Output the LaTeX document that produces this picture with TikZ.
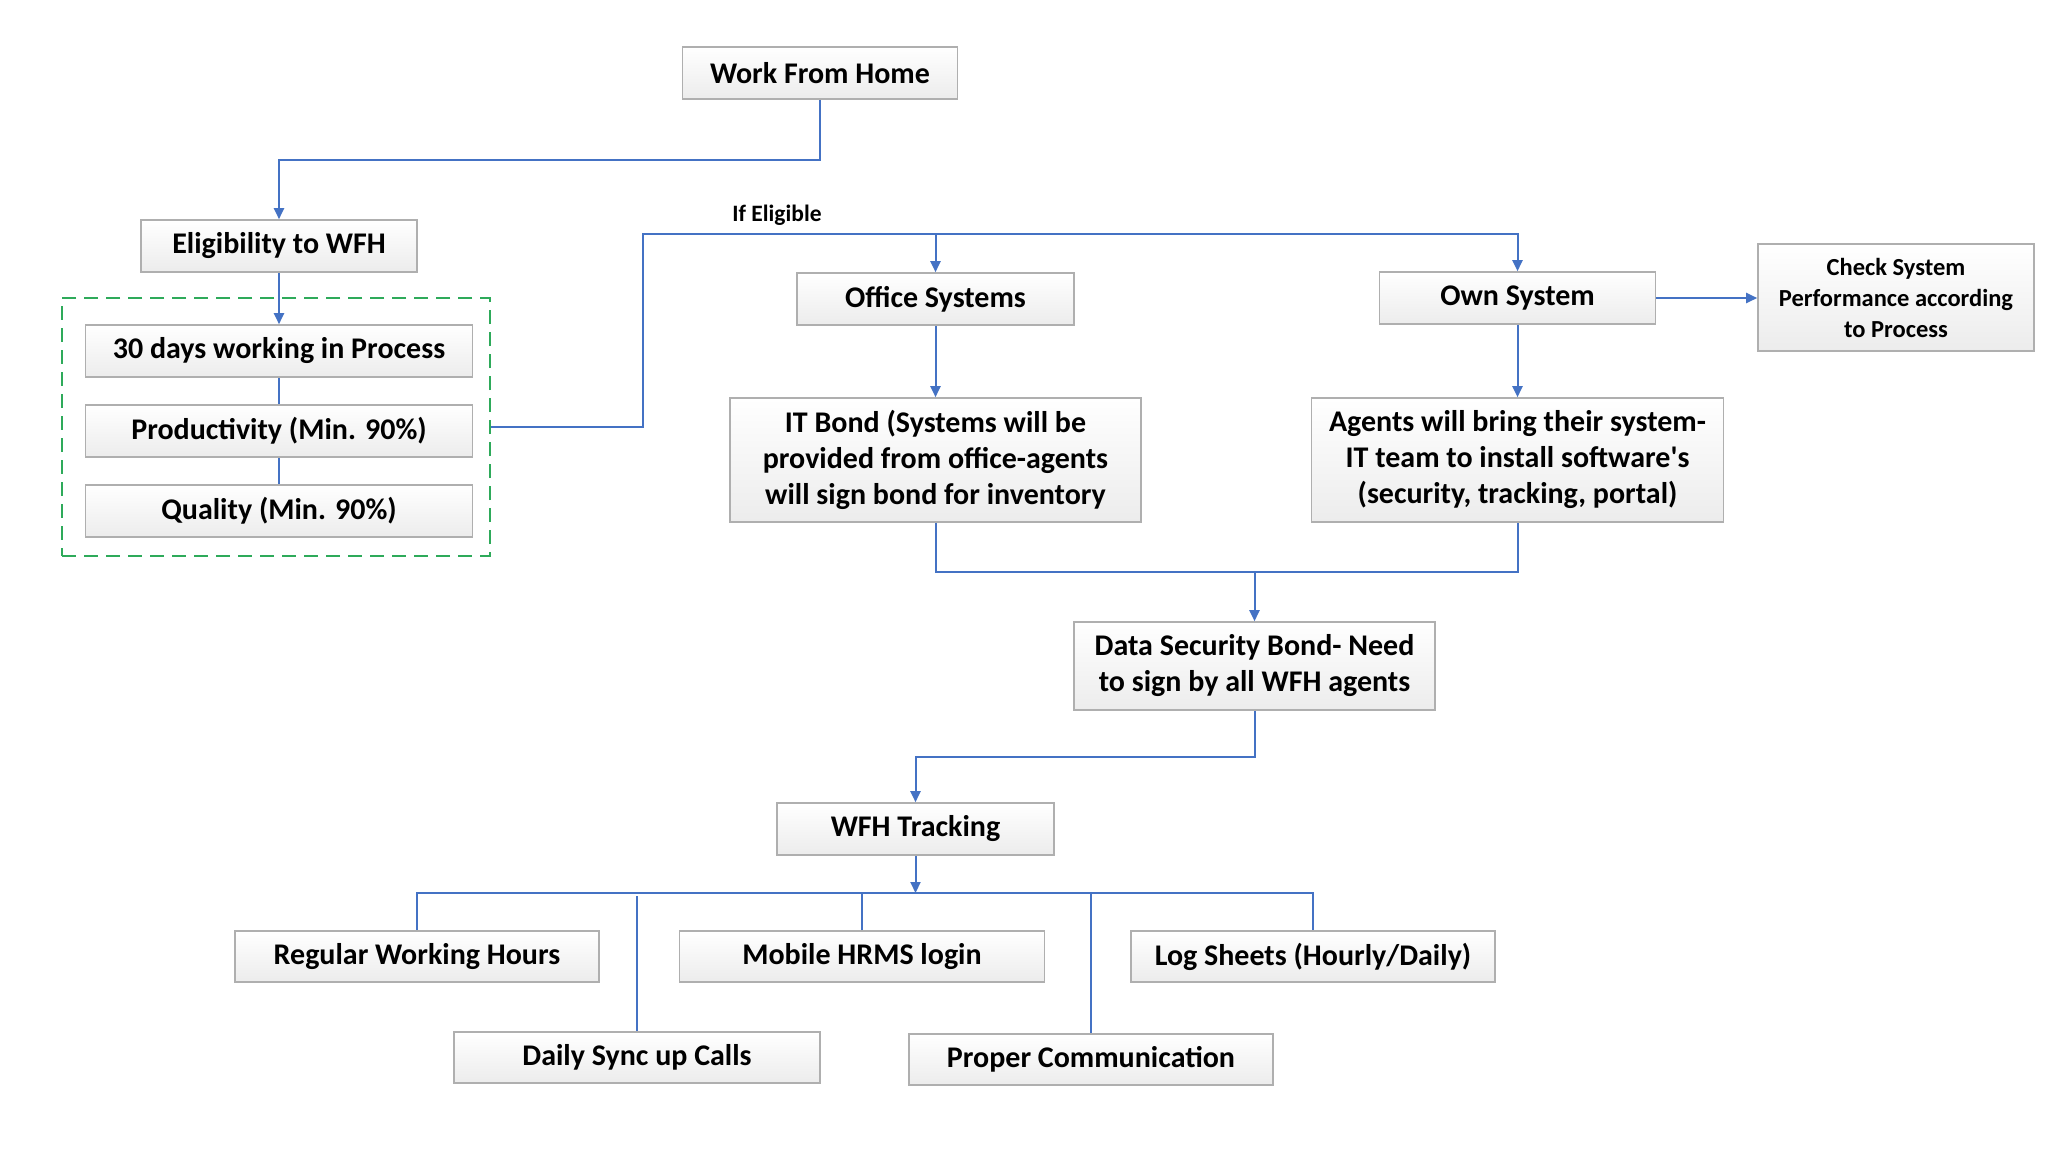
\documentclass[tikz,border=0pt]{standalone}
\usepackage{fontspec}
\setmainfont{Carlito}[Ligatures=TeXOff]
\usetikzlibrary{arrows.meta}
\definecolor{lnblue}{RGB}{68,114,196}
\definecolor{dgreen}{RGB}{46,170,90}
\definecolor{bxborder}{RGB}{175,175,175}
\tikzset{
  box/.style={draw=bxborder, line width=1.6pt, top color=white, bottom color={rgb,255:red,236;green,236;blue,236},
    inner sep=0pt, align=center, font=\fontsize{30}{36}\selectfont\bfseries},
  smallbox/.style={box, font=\fontsize{24.5}{31}\selectfont\bfseries},
  conn/.style={draw=lnblue, line width=2pt},
  arr/.style={conn, -{Triangle[length=11pt,width=10pt]}},
  thinconn/.style={draw=lnblue, line width=1.2pt},
  dashbox/.style={draw=dgreen, line width=2.4pt, dash pattern=on 14pt off 8pt, inner sep=0pt}
}
\begin{document}
\begin{tikzpicture}[x=1pt,y=-1pt]
\useasboundingbox[fill=white] (0,0) rectangle (2048,1152);

% nodes
\node[box, minimum width=275, minimum height=52] (wfh) at (820,73) {Work From Home};
\node[box, minimum width=276, minimum height=52] (elig) at (279,246) {Eligibility to WFH};
\node[dashbox, minimum width=428, minimum height=258] (grp) at (276,427) {};
\node[box, minimum width=387, minimum height=52] (days) at (279,351) {30 days working in Process};
\node[box, minimum width=387, minimum height=52] (prod) at (279,431) {Productivity (Min. 90\%)};
\node[box, minimum width=387, minimum height=52] (qual) at (279,511) {Quality (Min. 90\%)};

\node[font=\fontsize{23.5}{28}\selectfont\bfseries] (ifel) at (777,215) {If Eligible};
\coordinate (ifbus) at (643,234);

\node[box, minimum width=277, minimum height=52] (office) at (935.5,299) {Office Systems};
\node[box, minimum width=276, minimum height=52] (own) at (1517.5,298) {Own System};
\node[smallbox, minimum width=276, minimum height=107] (check) at (1896,297.5) {Check System\\Performance according\\to Process};

\node[box, minimum width=411, minimum height=124] (itb) at (935.5,460) {IT Bond (Systems will be\\provided from office-agents\\will sign bond for inventory};
\node[box, minimum width=412, minimum height=124] (agents) at (1517.5,460) {Agents will bring their system-\\IT team to install software's\\(security, tracking, portal)};

\node[box, minimum width=361, minimum height=88] (ds) at (1254.5,666) {Data Security Bond- Need\\to sign by all WFH agents};
\coordinate (merge) at (1254.5,572);
\node[box, minimum width=277, minimum height=52] (trk) at (915.5,829) {WFH Tracking};
\coordinate (bus) at (0,893);

\node[box, minimum width=364, minimum height=51] (reg) at (417,956.5) {Regular Working Hours};
\node[box, minimum width=365, minimum height=51] (mob) at (862,956.5) {Mobile HRMS login};
\node[box, minimum width=364, minimum height=51] (log) at (1313,956.5) {Log Sheets (Hourly/Daily)};
\node[box, minimum width=366, minimum height=51] (daily) at (637,1057.5) {Daily Sync up Calls};
\node[box, minimum width=364, minimum height=51] (prop) at (1091,1059.5) {Proper Communication};

% connectors
\draw[arr] (wfh.south) -- ++(0,60) -| (elig.north);
\draw[arr] (elig.south) -- (days.north);
\draw[thinconn] (days.south) -- (prod.north);
\draw[thinconn] (prod.south) -- (qual.north);

\draw[arr] (grp.east) -| (ifbus) -| (own.north);
\draw[arr] (office.north |- ifbus) -- (office.north);
\draw[arr] (own.east) -- (check.west |- own.east);
\draw[arr] (office.south) -- (itb.north);
\draw[arr] (own.south) -- (agents.north);

\draw[conn] (itb.south) |- (merge) -| (agents.south);
\draw[arr] (merge) -- (ds.north);

\draw[arr] (ds.south) -- ++(0,46) -| (trk.north);
\draw[arr] (trk.south) -- (trk.south |- bus);

\draw[thinconn] (reg.north) -- (reg.north |- bus) -- (log.north |- bus) -- (log.north);
\draw[thinconn] (mob.north) -- (mob.north |- bus);
\draw[thinconn] (daily.north) -- ([yshift=-3pt]daily.north |- bus);
\draw[thinconn] (prop.north) -- (prop.north |- bus);
\end{tikzpicture}
\end{document}
